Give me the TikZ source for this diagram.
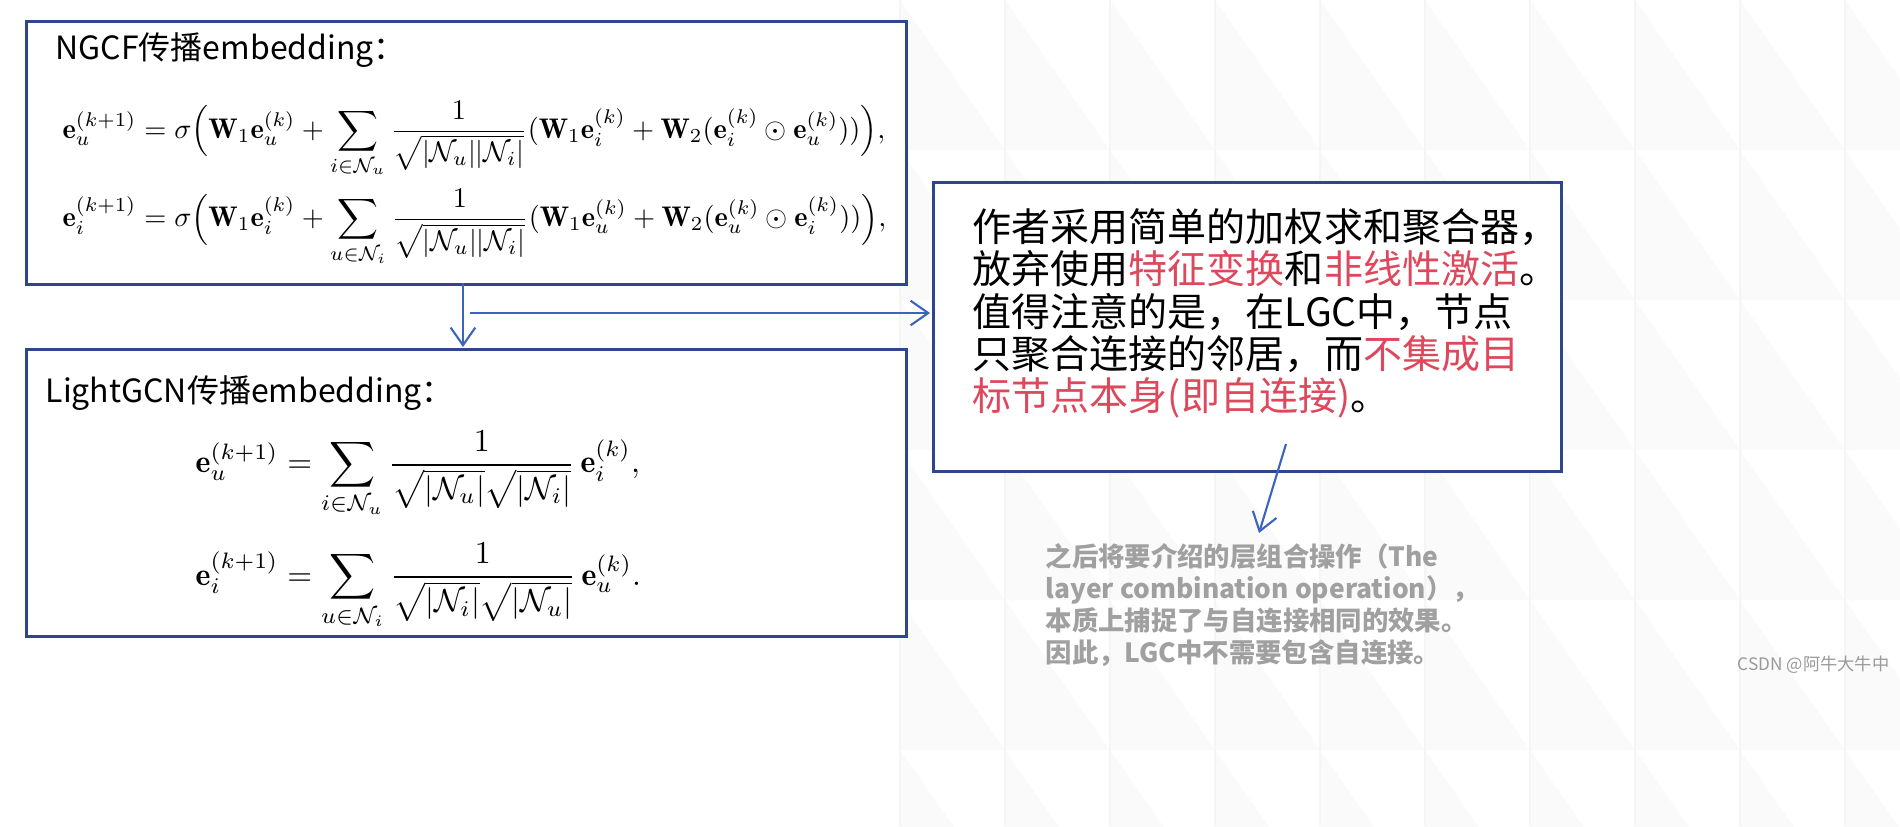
\documentclass[tikz,border=0pt]{standalone}
\usepackage{amsmath,amssymb}
\usepackage{graphicx}
\usepackage{fontspec}
\usetikzlibrary{arrows.meta}
\newfontfamily\cjk{Noto Sans CJK SC}
\definecolor{boxblue}{RGB}{45,70,140}
\definecolor{arrblue}{RGB}{60,100,190}
\definecolor{hred}{RGB}{222,72,92}
\definecolor{gtext}{RGB}{160,160,160}
\begin{document}
\begin{tikzpicture}[x=0.01cm,y=-0.01cm,
  frame/.style={draw=boxblue,line width=0.8pt},
  conn/.style={draw=arrblue,line width=0.6pt,-{Straight Barb[length=5pt,width=7pt]}},
  tri/.style={fill=gray!4,draw=none}]
\useasboundingbox (0,0) rectangle (1900,826);
% background pattern
\foreach \i in {0,...,9}{\foreach \j in {0,...,5}{
  \fill[tri] (900+\i*105,\j*150) -- (1005+\i*105,\j*150+150) -- (900+\i*105,\j*150+150) -- cycle;}}
\foreach \i in {0,...,9}{\draw[gray!8,line width=0.3pt] (900+\i*105,0) -- (900+\i*105,826);}
% boxes
\node[frame,fill=white,minimum width=880*0.01cm,minimum height=263*0.01cm,anchor=north west,inner sep=0] (b1) at (25,20) {};
\node[frame,fill=white,minimum width=880*0.01cm,minimum height=287*0.01cm,anchor=north west,inner sep=0] (b2) at (25,348) {};
\node[frame,fill=white,minimum width=628*0.01cm,minimum height=289*0.01cm,anchor=north west,inner sep=0] (b3) at (932,181) {};
% titles
\node[anchor=west,inner sep=0,font=\cjk\fontsize{9.1pt}{10pt}\selectfont] (t1) at (55,50) {NGCF传播embedding：};
\node[anchor=west,inner sep=0,font=\cjk\fontsize{9.1pt}{10pt}\selectfont] (t2) at (45,393) {LightGCN传播embedding：};
% equations
\node[anchor=north west,inner sep=0] (eq1) at (62,100) {\resizebox{8.23cm}{!}{$\begin{aligned}
\mathbf{e}_u^{(k+1)} &= \sigma\Big(\mathbf{W}_1\mathbf{e}_u^{(k)} + \sum_{i\in\mathcal{N}_u}\frac{1}{\sqrt{|\mathcal{N}_u||\mathcal{N}_i|}}(\mathbf{W}_1\mathbf{e}_i^{(k)} + \mathbf{W}_2(\mathbf{e}_i^{(k)}\odot\mathbf{e}_u^{(k)}))\Big),\\
\mathbf{e}_i^{(k+1)} &= \sigma\Big(\mathbf{W}_1\mathbf{e}_i^{(k)} + \sum_{u\in\mathcal{N}_i}\frac{1}{\sqrt{|\mathcal{N}_u||\mathcal{N}_i|}}(\mathbf{W}_1\mathbf{e}_u^{(k)} + \mathbf{W}_2(\mathbf{e}_u^{(k)}\odot\mathbf{e}_i^{(k)}))\Big),
\end{aligned}$}};
\node[anchor=north west,inner sep=0] (eq2) at (195,430) {\resizebox{4.45cm}{!}{$\begin{aligned}
\mathbf{e}_u^{(k+1)} &= \sum_{i\in\mathcal{N}_u}\frac{1}{\sqrt{|\mathcal{N}_u|}\sqrt{|\mathcal{N}_i|}}\,\mathbf{e}_i^{(k)},\\[4pt]
\mathbf{e}_i^{(k+1)} &= \sum_{u\in\mathcal{N}_i}\frac{1}{\sqrt{|\mathcal{N}_i|}\sqrt{|\mathcal{N}_u|}}\,\mathbf{e}_u^{(k)}.
\end{aligned}$}};
% right text
\node[anchor=north west,inner sep=0,align=left,font=\cjk\fontsize{11.1pt}{12pt}\selectfont] (rt) at (972,208) {作者采用简单的加权求和聚合器，\\
放弃使用\textcolor{hred}{特征变换}和\textcolor{hred}{非线性激活}。\\
值得注意的是，在LGC中，节点\\
只聚合连接的邻居，而\textcolor{hred}{不集成目}\\
\textcolor{hred}{标节点本身(即自连接)}。};
\node[anchor=north west,inner sep=0,align=left,text=gtext,font=\cjk\bfseries\fontsize{7.5pt}{9.1pt}\selectfont] (gt) at (1045,543) {之后将要介绍的层组合操作（The\\
layer combination operation），\\
本质上捕捉了与自连接相同的效果。\\
因此，LGC中不需要包含自连接。};
\node[anchor=east,inner sep=0,text=gray!80,font=\cjk\fontsize{4.9pt}{5pt}\selectfont] (wm) at (1890,665) {CSDN @阿牛大牛中};
% connectors
\coordinate (a1s) at (463,283); \coordinate (a1e) at (463,347);
\draw[conn] (a1s) -- (a1e);
\coordinate (a2s) at (470,313); \coordinate (a2e) at (930,313);
\draw[conn] (a2s) -- (a2e);
\coordinate (a3s) at (1286,444); \coordinate (a3e) at (1259,533);
\draw[conn] (a3s) -- (a3e);
\end{tikzpicture}
\end{document}
